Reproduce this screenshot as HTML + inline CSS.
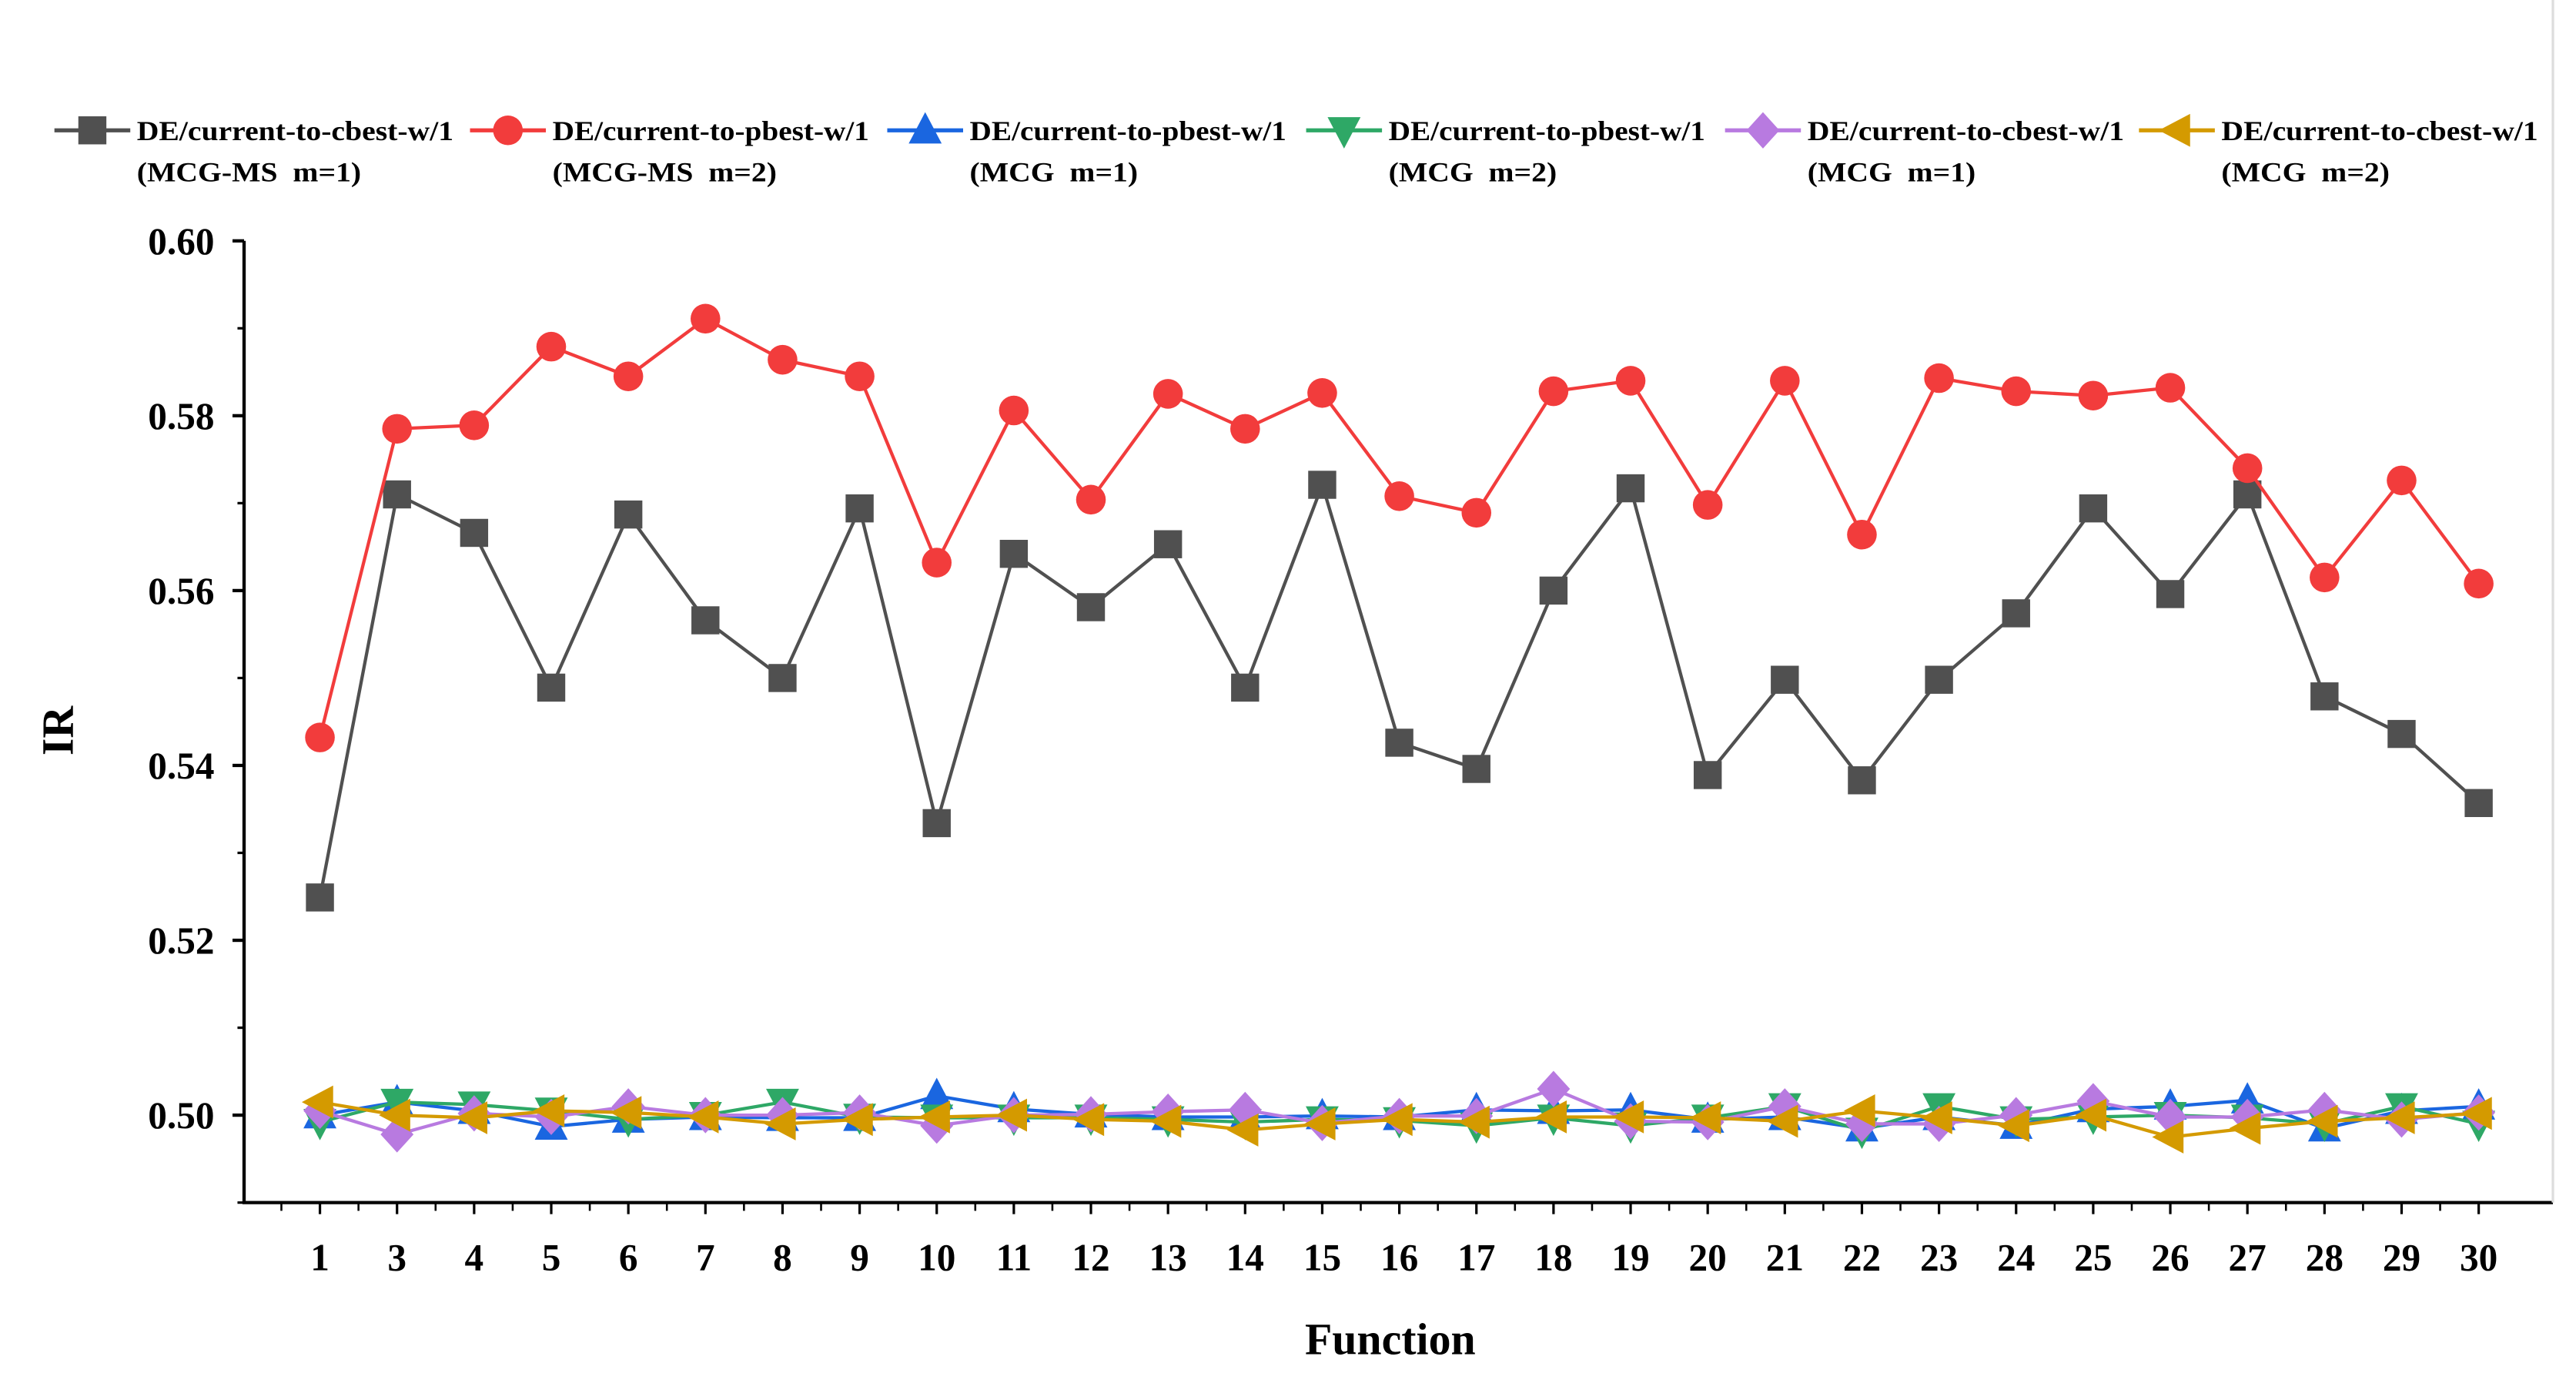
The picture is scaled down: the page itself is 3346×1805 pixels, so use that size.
<!DOCTYPE html>
<html><head><meta charset="utf-8">
<style>
html,body{margin:0;padding:0;background:#fff;}
svg{display:block;font-family:"Liberation Serif",serif;font-weight:bold;}
</style></head>
<body>
<svg id="chart" width="3346" height="1805" viewBox="0 0 1562 842.6" xmlns="http://www.w3.org/2000/svg">
<rect width="1562" height="843" fill="#fff"/>
<g id="axes"></g>
<g id="series"></g>
<g id="legend"></g>
<text x="843" y="821" font-size="27" text-anchor="middle">Function</text>
<text transform="translate(44,443) rotate(-90)" font-size="27" text-anchor="middle">IR</text>
</svg>
<script>
const categories=[1,3,4,5,6,7,8,9,10,11,12,13,14,15,16,17,18,19,20,21,22,23,24,25,26,27,28,29,30];
const yTicks=[0.50,0.52,0.54,0.56,0.58,0.60];
const grayVals=[0.5249,0.5710,0.5666,0.5489,0.5687,0.5566,0.5500,0.5694,0.5334,0.5642,0.5581,0.5653,0.5489,0.5721,0.5426,0.5396,0.5600,0.5717,0.5389,0.5498,0.5383,0.5498,0.5574,0.5694,0.5596,0.5710,0.5479,0.5436,0.5357];
const redVals=[0.5432,0.5785,0.5789,0.5879,0.5845,0.5911,0.5864,0.5845,0.5632,0.5806,0.5704,0.5825,0.5785,0.5826,0.5708,0.5689,0.5828,0.5840,0.5698,0.5840,0.5664,0.5843,0.5828,0.5823,0.5832,0.5740,0.5615,0.5726,0.5608];
const blueVals=[0.5000,0.5015,0.5005,0.4987,0.4995,0.4998,0.4997,0.4997,0.5022,0.5007,0.5001,0.4998,0.4998,0.4999,0.4998,0.5006,0.5005,0.5006,0.4995,0.4998,0.4985,0.4998,0.4988,0.5007,0.5010,0.5017,0.4985,0.5005,0.5010];
const greenVals=[0.4992,0.5015,0.5012,0.5005,0.4995,0.5000,0.5015,0.4998,0.4997,0.4997,0.4997,0.4995,0.4992,0.4995,0.4994,0.4988,0.4997,0.4988,0.4997,0.5010,0.4982,0.5010,0.4995,0.4998,0.5000,0.4997,0.4990,0.5010,0.4990];
const purpleVals=[0.5005,0.4978,0.5002,0.4998,0.5010,0.5000,0.5000,0.5003,0.4988,0.5000,0.5001,0.5004,0.5006,0.4991,0.4999,0.4999,0.5030,0.4993,0.4992,0.5010,0.4990,0.4990,0.5000,0.5016,0.4998,0.4998,0.5006,0.4995,0.5003];
const goldVals=[0.5015,0.5000,0.4997,0.5005,0.5003,0.4998,0.4990,0.4995,0.4998,0.5000,0.4995,0.4993,0.4983,0.4990,0.4995,0.4992,0.4998,0.4998,0.4997,0.4993,0.5005,0.4997,0.4988,0.5000,0.4975,0.4985,0.4993,0.4997,0.5002];
const legendLine1=["DE/current-to-cbest-w/1","DE/current-to-pbest-w/1","DE/current-to-pbest-w/1","DE/current-to-pbest-w/1","DE/current-to-cbest-w/1","DE/current-to-cbest-w/1"];
const legendLine2=["(MCG-MS  m=1)","(MCG-MS  m=2)","(MCG  m=1)","(MCG  m=2)","(MCG  m=1)","(MCG  m=2)"];

const NS="http://www.w3.org/2000/svg";
const X0=148,X1=1548,YB=729;
function xs(i){return 194+i*(1503-194)/(categories.length-1);}
function ys(v){return 676-(v-0.5)*5300;}
function mk(tag,attrs,parent){const e=document.createElementNS(NS,tag);for(const k in attrs)e.setAttribute(k,attrs[k]);parent.appendChild(e);return e;}

const axes=document.getElementById('axes');
let e;
e=mk('line',{x1:X0,y1:146,x2:X0,y2:YB,stroke:'#000','stroke-width':2},axes);


e=mk('line',{x1:X0-1,y1:YB,x2:X1,y2:YB,stroke:'#000','stroke-width':2},axes);


e=mk('line',{x1:X1,y1:0,x2:X1,y2:YB,stroke:'#ddd','stroke-width':1.5},axes);


for(let k=0;k<yTicks.length;k++){
  const y=ys(yTicks[k]);
  e=mk('line',{x1:X0-7,y1:y,x2:X0,y2:y,stroke:'#000','stroke-width':2},axes);
  
  
  e=mk('text',{x:X0-18,y:y+8,'font-size':23,'text-anchor':'end'},axes);
  e.textContent=yTicks[k].toFixed(2);
  
  
  if(k<yTicks.length-1){const ym=ys(yTicks[k]+0.01);
    e=mk('line',{x1:X0-4,y1:ym,x2:X0,y2:ym,stroke:'#000','stroke-width':1.5},axes);
    
    }
}
{const ym=ys(0.49);e=mk('line',{x1:X0-4,y1:ym,x2:X0,y2:ym,stroke:'#000','stroke-width':1.5},axes);

}
const step=(1503-194)/(categories.length-1);
for(let i=0;i<categories.length;i++){
  const x=xs(i);
  e=mk('line',{x1:x,y1:YB,x2:x,y2:YB+7,stroke:'#000','stroke-width':1.5},axes);
  
  
  e=mk('line',{x1:x-step/2,y1:YB,x2:x-step/2,y2:YB+5,stroke:'#000','stroke-width':1.2},axes);
  
  
  e=mk('text',{x:x,y:770,'font-size':23,'text-anchor':'middle'},axes);
  e.textContent=categories[i];
  
  
}

function marker(type,x,y,color,parent){
  const s=10;let m;
  if(type==='square')m=mk('rect',{x:x-8.5,y:y-8.5,width:17,height:17,fill:color},parent);
  else if(type==='circle')m=mk('circle',{cx:x,cy:y,r:9,fill:color},parent);
  else if(type==='up')m=mk('polygon',{points:`${x},${y-s-1} ${x+s},${y+s-2} ${x-s},${y+s-2}`,fill:color},parent);
  else if(type==='down')m=mk('polygon',{points:`${x-s},${y-s+2} ${x+s},${y-s+2} ${x},${y+s+1}`,fill:color},parent);
  else if(type==='diamond')m=mk('polygon',{points:`${x},${y-s-1} ${x+s},${y} ${x},${y+s+1} ${x-s},${y}`,fill:color},parent);
  else m=mk('polygon',{points:`${x-s-1},${y} ${x+s-2},${y-s} ${x+s-2},${y+s}`,fill:color},parent);
  return m;
}
const seriesDefs=[
 {vals:grayVals,color:'#505050',type:'square',name:'series-mcg-ms-cbest-m1'},
 {vals:redVals,color:'#f23c3c',type:'circle',name:'series-mcg-ms-pbest-m2'},
 {vals:blueVals,color:'#1a66e0',type:'up',name:'series-mcg-pbest-m1'},
 {vals:greenVals,color:'#2ea866',type:'down',name:'series-mcg-pbest-m2'},
 {vals:purpleVals,color:'#b87ae0',type:'diamond',name:'series-mcg-cbest-m1'},
 {vals:goldVals,color:'#d49a00',type:'left',name:'series-mcg-cbest-m2'}];
const sg=document.getElementById('series');
seriesDefs.forEach(sd=>{
  const g=mk('g',{},sg);
  
  
  const pts=sd.vals.map((v,i)=>xs(i).toFixed(1)+','+ys(v).toFixed(1)).join(' ');
  const pl=mk('polyline',{points:pts,fill:'none',stroke:sd.color,'stroke-width':2},g);
  
  
  sd.vals.forEach((v,i)=>{const m=marker(sd.type,xs(i),ys(v),sd.color,g);
    
    });
});
const lg=document.getElementById('legend');
const lx=[33,285,538,792,1046,1297];
seriesDefs.forEach((sd,k)=>{
  const g=mk('g',{},lg);
  
  
  const x=lx[k];
  mk('line',{x1:x,y1:79,x2:x+46,y2:79,stroke:sd.color,'stroke-width':2.5},g);
  marker(sd.type,x+23,79,sd.color,g);
  let t=mk('text',{x:x+50,y:85,'font-size':17,textLength:192,lengthAdjust:'spacingAndGlyphs'},g);t.textContent=legendLine1[k];
  const w2=legendLine2[k].indexOf('MS')>=0?136:102;
  t=mk('text',{x:x+50,y:110,'font-size':17,textLength:w2,lengthAdjust:'spacingAndGlyphs'},g);t.textContent=legendLine2[k];
  t.setAttribute('style','white-space:pre');
});
</script>
</body></html>
